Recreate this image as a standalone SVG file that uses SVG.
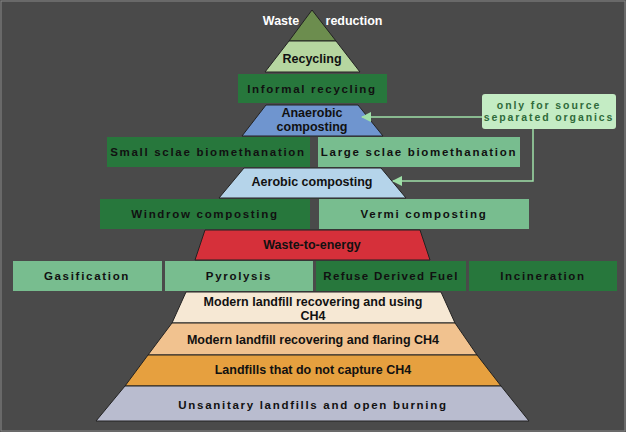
<svg xmlns="http://www.w3.org/2000/svg" width="626" height="432" viewBox="0 0 626 432">
<defs>
<style>
text{font-family:"Liberation Sans",Arial,sans-serif;font-weight:bold;font-size:12.5px;text-anchor:middle;fill:#111}
.sp{letter-spacing:1.7px;font-size:11.5px}
.dg{fill:#27773c}.lg{fill:#78bd8f}
.tier{stroke:#222;stroke-width:1}
</style>
<marker id="ah" viewBox="0 0 10 10" refX="9" refY="5" markerWidth="7" markerHeight="7" orient="auto"><path d="M0,0L10,5L0,10z" fill="#9fe0a8"/></marker>
</defs>
<rect width="626" height="432" fill="#4a4a4a"/>
<rect x="1" y="1" width="624" height="430" fill="none" stroke="#888"/>
<g id="waste-reduction"><polygon class="tier" points="312,10 336,41 289,41" fill="#6c8d4e"/><text x="281" y="25" style="fill:#fff">Waste</text><text x="354" y="25" style="fill:#fff">reduction</text></g>
<g id="recycling"><polygon class="tier" points="289,41 336,41 360,72 265,72" fill="#b6d6a0"/><text x="312" y="63">Recycling</text></g>
<g id="informal"><rect x="238" y="74" width="149" height="29" class="dg"/><text class="sp" x="312" y="93">Informal recycling</text></g>
<g id="anaerobic"><polygon class="tier" points="266,105 358,105 383,136 242,136" fill="#6f95cf"/><text x="312" y="117">Anaerobic</text><text x="312" y="131">composting</text></g>
<g id="small-bio"><rect x="107" y="137" width="203" height="30" class="dg"/><text class="sp" x="208" y="156">Small sclae biomethanation</text></g>
<g id="large-bio"><rect x="318" y="137" width="202" height="30" class="lg"/><text class="sp" x="419" y="156">Large sclae biomethanation</text></g>
<g id="aerobic"><polygon class="tier" points="244,168 381,168 406,198 219,198" fill="#b5d4ea"/><text x="312" y="186">Aerobic composting</text></g>
<g id="windrow"><rect x="100" y="199" width="210" height="30" class="dg"/><text class="sp" x="205" y="218">Windrow composting</text></g>
<g id="vermi"><rect x="319" y="199" width="210" height="30" class="lg"/><text class="sp" x="424" y="218">Vermi composting</text></g>
<g id="wte"><polygon class="tier" points="205,230 420,230 430,260 195,260" fill="#d6303a"/><text x="312" y="249">Waste-to-energy</text></g>
<g id="gasification"><rect x="13" y="261" width="149" height="30" class="lg"/><text class="sp" x="87" y="280">Gasification</text></g>
<g id="pyrolysis"><rect x="165" y="261" width="148" height="30" class="lg"/><text class="sp" x="239" y="280">Pyrolysis</text></g>
<g id="rdf"><rect x="316" y="261" width="150" height="30" class="dg"/><text class="sp" x="391" y="280" style="letter-spacing:1.3px">Refuse Derived Fuel</text></g>
<g id="incineration"><rect x="469" y="261" width="148" height="30" class="dg"/><text class="sp" x="543" y="280">Incineration</text></g>
<g id="landfill-using"><polygon class="tier" points="186,292 441,292 455,323 172,323" fill="#f6e8d4"/><text x="313" y="306">Modern landfill recovering and using</text><text x="313" y="320">CH4</text></g>
<g id="landfill-flaring"><polygon class="tier" points="172,323 455,323 477,355 148,355" fill="#f1c28f"/><text x="313" y="344">Modern landfill recovering and flaring CH4</text></g>
<g id="landfill-no"><polygon class="tier" points="148,355 477,355 501,386 125,386" fill="#e6a03f"/><text x="313" y="374">Landfills that do not capture CH4</text></g>
<g id="unsanitary"><polygon class="tier" points="125,386 501,386 529,421 96,421" fill="#b9bccf"/><text class="sp" x="313" y="409">Unsanitary landfills and open burning</text></g>
<g id="note"><rect x="482" y="94" width="134" height="35" rx="3" fill="#c4ecc4"/><text class="sp" x="549" y="109" style="fill:#2f6a3a;font-size:10.5px;letter-spacing:1.9px">only for source</text><text class="sp" x="549" y="121" style="fill:#2f6a3a;font-size:10.5px;letter-spacing:1.9px">separated organics</text></g>
<g id="connectors" fill="none" stroke="#9fe0a8" stroke-width="1.5">
<path d="M482,117H362" marker-end="url(#ah)"/>
<path d="M533,129V181H393" marker-end="url(#ah)"/>
</g>
</svg>
